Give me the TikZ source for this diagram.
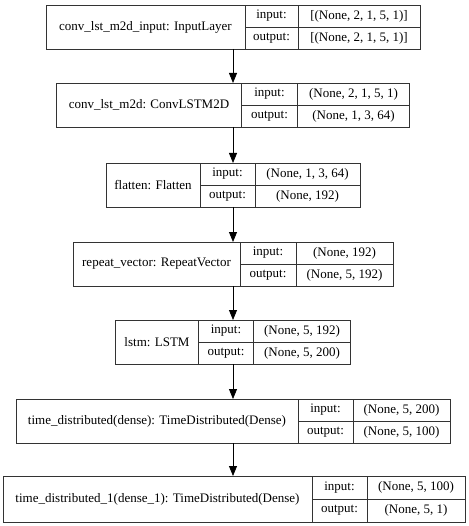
\documentclass[tikz,border=0pt]{standalone}
\usepackage{fontspec}
\setmainfont{Liberation Serif}
\usepackage{tikz}
\usetikzlibrary{
  arrows.meta,
  positioning,
}

\begin{document}
\begin{tikzpicture}[
  x=1pt, y=-1pt,
  font=\fontsize{13}{15}\selectfont,
  every node/.style={align=center, inner sep=0pt, outer sep=0pt},
  frame/.style={draw=black!80, line width=0.8pt},
  cell/.style={draw=black!80, line width=0.8pt, anchor=north west},
  arrow/.style={-{Stealth[length=10pt, width=8pt, inset=0pt]}, line width=0.8pt},
]
\useasboundingbox (0,0) rectangle (468,526);

%% conv_lst_m2d_input
\node[frame, minimum width=374pt, minimum height=44pt] (input) at (233,27) {};
\node[cell, minimum width=199pt, minimum height=44pt] (input-name) at (input.north west)
  {conv\_lst\_m2d\_input: InputLayer};
\node[cell, minimum width=53pt, minimum height=22pt] (input-il) at (input-name.north east) {input:};
\node[cell, minimum width=53pt, minimum height=22pt] (input-ol) at (input-il.south west) {output:};
\node[cell, minimum width=122pt, minimum height=22pt] (input-iv) at (input-il.north east) {[(None, 2, 1, 5, 1)]};
\node[cell, minimum width=122pt, minimum height=22pt] (input-ov) at (input-ol.north east) {[(None, 2, 1, 5, 1)]};

%% conv_lst_m2d
\node[frame, minimum width=353pt, minimum height=44pt] (convlstm) at (233,105) {};
\node[cell, minimum width=185pt, minimum height=44pt] (convlstm-name) at (convlstm.north west)
  {conv\_lst\_m2d: ConvLSTM2D};
\node[cell, minimum width=56pt, minimum height=22pt] (convlstm-il) at (convlstm-name.north east) {input:};
\node[cell, minimum width=56pt, minimum height=22pt] (convlstm-ol) at (convlstm-il.south west) {output:};
\node[cell, minimum width=112pt, minimum height=22pt] (convlstm-iv) at (convlstm-il.north east) {(None, 2, 1, 5, 1)};
\node[cell, minimum width=112pt, minimum height=22pt] (convlstm-ov) at (convlstm-ol.north east) {(None, 1, 3, 64)};

%% flatten
\node[frame, minimum width=254pt, minimum height=44pt] (flatten) at (233,185) {};
\node[cell, minimum width=94pt, minimum height=44pt] (flatten-name) at (flatten.north west)
  {flatten: Flatten};
\node[cell, minimum width=55pt, minimum height=22pt] (flatten-il) at (flatten-name.north east) {input:};
\node[cell, minimum width=55pt, minimum height=22pt] (flatten-ol) at (flatten-il.south west) {output:};
\node[cell, minimum width=105pt, minimum height=22pt] (flatten-iv) at (flatten-il.north east) {(None, 1, 3, 64)};
\node[cell, minimum width=105pt, minimum height=22pt] (flatten-ov) at (flatten-ol.north east) {(None, 192)};

%% repeat_vector
\node[frame, minimum width=320pt, minimum height=44pt] (repeat) at (233,264) {};
\node[cell, minimum width=167pt, minimum height=44pt] (repeat-name) at (repeat.north west)
  {repeat\_vector: RepeatVector};
\node[cell, minimum width=56pt, minimum height=22pt] (repeat-il) at (repeat-name.north east) {input:};
\node[cell, minimum width=56pt, minimum height=22pt] (repeat-ol) at (repeat-il.south west) {output:};
\node[cell, minimum width=97pt, minimum height=22pt] (repeat-iv) at (repeat-il.north east) {(None, 192)};
\node[cell, minimum width=97pt, minimum height=22pt] (repeat-ov) at (repeat-ol.north east) {(None, 5, 192)};

%% lstm
\node[frame, minimum width=235pt, minimum height=44pt] (lstm) at (233,342) {};
\node[cell, minimum width=83pt, minimum height=44pt] (lstm-name) at (lstm.north west)
  {lstm: LSTM};
\node[cell, minimum width=55pt, minimum height=22pt] (lstm-il) at (lstm-name.north east) {input:};
\node[cell, minimum width=55pt, minimum height=22pt] (lstm-ol) at (lstm-il.south west) {output:};
\node[cell, minimum width=97pt, minimum height=22pt] (lstm-iv) at (lstm-il.north east) {(None, 5, 192)};
\node[cell, minimum width=97pt, minimum height=22pt] (lstm-ov) at (lstm-ol.north east) {(None, 5, 200)};

%% time_distributed(dense)
\node[frame, minimum width=434pt, minimum height=44pt] (dense) at (233,421) {};
\node[cell, minimum width=282pt, minimum height=44pt] (dense-name) at (dense.north west)
  {time\_distributed(dense): TimeDistributed(Dense)};
\node[cell, minimum width=55pt, minimum height=22pt] (dense-il) at (dense-name.north east) {input:};
\node[cell, minimum width=55pt, minimum height=22pt] (dense-ol) at (dense-il.south west) {output:};
\node[cell, minimum width=97pt, minimum height=22pt] (dense-iv) at (dense-il.north east) {(None, 5, 200)};
\node[cell, minimum width=97pt, minimum height=22pt] (dense-ov) at (dense-ol.north east) {(None, 5, 100)};

%% time_distributed_1(dense_1)
\node[frame, minimum width=462pt, minimum height=46pt] (denseone) at (234,499) {};
\node[cell, minimum width=309pt, minimum height=46pt] (denseone-name) at (denseone.north west)
  {time\_distributed\_1(dense\_1): TimeDistributed(Dense)};
\node[cell, minimum width=55pt, minimum height=23pt] (denseone-il) at (denseone-name.north east) {input:};
\node[cell, minimum width=55pt, minimum height=23pt] (denseone-ol) at (denseone-il.south west) {output:};
\node[cell, minimum width=98pt, minimum height=23pt] (denseone-iv) at (denseone-il.north east) {(None, 5, 100)};
\node[cell, minimum width=98pt, minimum height=23pt] (denseone-ov) at (denseone-ol.north east) {(None, 5, 1)};

\draw[arrow] (input.south) -- (convlstm.north);
\draw[arrow] (convlstm.south) -- (flatten.north);
\draw[arrow] (flatten.south) -- (repeat.north);
\draw[arrow] (repeat.south) -- (lstm.north);
\draw[arrow] (lstm.south) -- (dense.north);
\draw[arrow] (dense.south) -- (denseone.north -| dense.south);

\end{tikzpicture}
\end{document}
